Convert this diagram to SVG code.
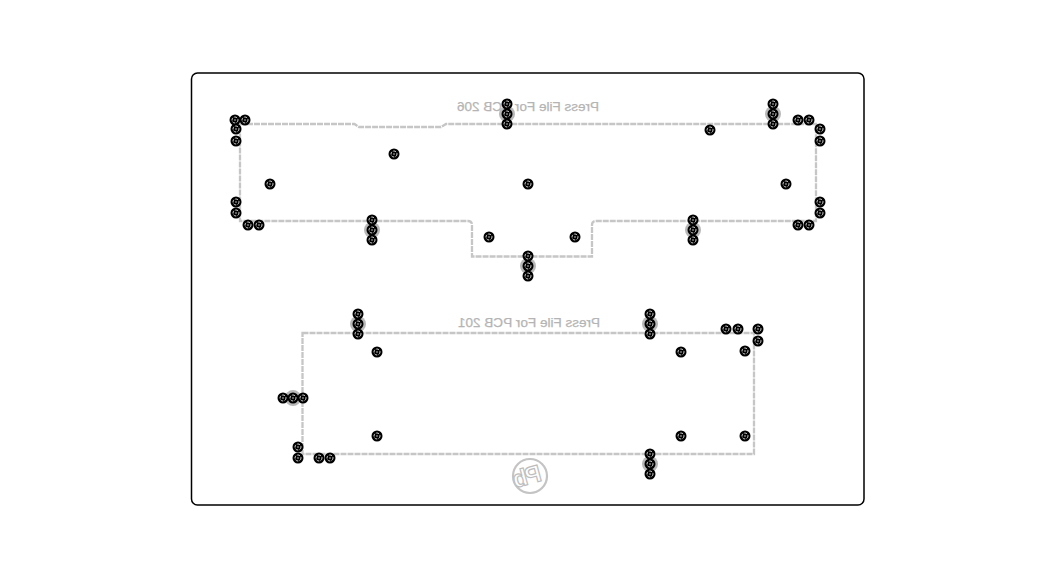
<svg xmlns="http://www.w3.org/2000/svg" width="1056" height="578" viewBox="0 0 1056 578">
<style>
.outline{fill:none;stroke:#c6c6c6;stroke-width:2.300;stroke-dasharray:6 1}
.silk{font-family:"Liberation Sans",Arial,sans-serif;font-size:13.500px;fill:#b4b4b4;stroke:#b4b4b4;stroke-width:.25;text-anchor:middle}
.halo{fill:#b8b8b8}
</style>
<defs>
<g id="pad"><circle r="5.500" fill="#000"/><circle r="3" fill="none" stroke="#e8e8e8" stroke-width=".9" stroke-dasharray="3 1.300"/><circle r="1" fill="#777"/></g>
</defs>
<rect width="1056" height="578" fill="#fff"/>
<rect x="191.500" y="73" width="672.500" height="432" rx="6" fill="#fff" stroke="#000" stroke-width="1.500"/>
<g id="board-206">
<path class="outline" d="M240 124H354.500L359 127H441L446 124H816V221H596Q592 221 592 225V256.500H472V225Q472 221 468 221H240Z"/>
<text class="silk" transform="translate(528 111) scale(-1 1)">Press File For PCB 206</text>
<g id="pads-206">
<circle class="halo" cx="507" cy="114" r="8"/><circle class="halo" cx="773" cy="114" r="8"/><circle class="halo" cx="372" cy="230" r="8"/><circle class="halo" cx="693" cy="230" r="8"/><circle class="halo" cx="528" cy="266" r="8"/>
<use href="#pad" x="235" y="120"/><use href="#pad" x="245" y="120"/><use href="#pad" x="236" y="129"/><use href="#pad" x="236" y="141"/>
<use href="#pad" x="507" y="104"/><use href="#pad" x="507" y="114"/><use href="#pad" x="507" y="124"/>
<use href="#pad" x="773" y="104"/><use href="#pad" x="773" y="114"/><use href="#pad" x="773" y="124"/>
<use href="#pad" x="798" y="120"/><use href="#pad" x="809" y="120"/><use href="#pad" x="820" y="129"/><use href="#pad" x="820" y="141"/>
<use href="#pad" x="710" y="130"/><use href="#pad" x="394" y="154"/><use href="#pad" x="270" y="184"/><use href="#pad" x="528" y="184"/><use href="#pad" x="786" y="184"/>
<use href="#pad" x="236" y="202"/><use href="#pad" x="236" y="213"/><use href="#pad" x="248" y="225"/><use href="#pad" x="259" y="225"/>
<use href="#pad" x="820" y="202"/><use href="#pad" x="820" y="213"/><use href="#pad" x="798" y="225"/><use href="#pad" x="809" y="225"/>
<use href="#pad" x="372" y="220"/><use href="#pad" x="372" y="230"/><use href="#pad" x="372" y="240"/>
<use href="#pad" x="693" y="220"/><use href="#pad" x="693" y="230"/><use href="#pad" x="693" y="240"/>
<use href="#pad" x="489" y="237"/><use href="#pad" x="575" y="237"/>
<use href="#pad" x="528" y="256"/><use href="#pad" x="528" y="266"/><use href="#pad" x="528" y="276"/>
</g>
</g>
<g id="board-201">
<path class="outline" d="M302.500 333H754V454H302.500Z"/>
<text class="silk" transform="translate(529 327) scale(-1 1)">Press File For PCB 201</text>
<g id="pb-mark"><circle cx="530" cy="476" r="17" fill="none" stroke="#c4c4c4" stroke-width="2.200"/>
<text transform="translate(530 484) rotate(-15) scale(-1 1)" style="font-family:'Liberation Sans',Arial,sans-serif;font-size:24px;font-weight:bold;fill:#fff;stroke:#bdbdbd;stroke-width:1.200;text-anchor:middle;letter-spacing:-2px">Pb</text></g>
<g id="pads-201">
<circle class="halo" cx="358" cy="324" r="8"/><circle class="halo" cx="650" cy="324" r="8"/><circle class="halo" cx="293" cy="398" r="8"/><circle class="halo" cx="650" cy="464" r="8"/>
<use href="#pad" x="358" y="314"/><use href="#pad" x="358" y="324"/><use href="#pad" x="358" y="334"/>
<use href="#pad" x="650" y="314"/><use href="#pad" x="650" y="324"/><use href="#pad" x="650" y="334"/>
<use href="#pad" x="726" y="329"/><use href="#pad" x="738" y="329"/><use href="#pad" x="758" y="329"/><use href="#pad" x="758" y="341"/>
<use href="#pad" x="377" y="352"/><use href="#pad" x="681" y="352"/><use href="#pad" x="745" y="351"/>
<use href="#pad" x="283" y="398"/><use href="#pad" x="293" y="398"/><use href="#pad" x="303" y="398"/>
<use href="#pad" x="377" y="436"/><use href="#pad" x="681" y="436"/><use href="#pad" x="745" y="436"/>
<use href="#pad" x="298" y="447"/><use href="#pad" x="298" y="458"/><use href="#pad" x="319" y="458"/><use href="#pad" x="330" y="458"/>
<use href="#pad" x="650" y="454"/><use href="#pad" x="650" y="464"/><use href="#pad" x="650" y="474"/>
</g>
</g>
</svg>
